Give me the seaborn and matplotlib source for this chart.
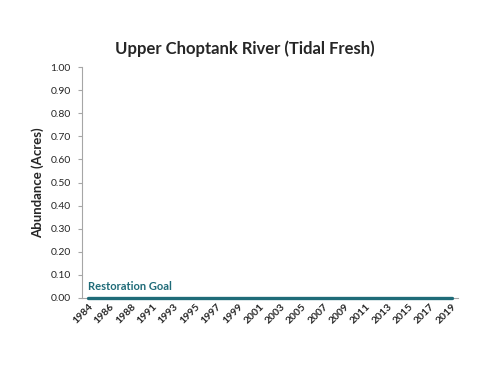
import numpy as np
import pandas as pd
import seaborn as sns
import matplotlib
matplotlib.use("Agg")
import matplotlib.pyplot as plt

# survey years (1990 missing) and abundance, all zero
years = [1984, 1985, 1986, 1987, 1988, 1989] + list(range(1991, 2020))
abundance = [0.0] * len(years)
goal = [0.0] * len(years)
yticks = [0.0, 0.1, 0.2, 0.3, 0.4, 0.5, 0.6, 0.7, 0.8, 0.9, 1.0]

sns.set_style("white")
plt.rcParams["font.family"] = ["Lato", "DejaVu Sans"]

df = pd.DataFrame({"year": [str(y) for y in years], "abundance": abundance, "goal": goal})

fig = plt.figure(figsize=(5, 3.86), dpi=100)
ax = fig.add_axes([0.164, 0.228, 0.752, 0.598])

sns.barplot(data=df, x="year", y="abundance", color="#4f81bd", ax=ax)
sns.lineplot(x=np.arange(len(years)), y=df["goal"], color="#1f6b78", linewidth=2.4, ax=ax)
for ln in ax.lines:
    ln.set_clip_on(False)
    ln.set_zorder(5)

ax.set_xlim(-0.6, len(years) - 0.4)
ax.set_ylim(0, 1.0)
ax.set_yticks(yticks)
ax.set_yticklabels([f"{v:.2f}" for v in yticks], fontsize=7.5)
ax.set_xticks(range(0, len(years), 2))
ax.set_xticklabels([str(y) for y in years[::2]], rotation=45, ha="right",
                   rotation_mode="anchor", fontsize=7.5, fontweight="bold")
ax.set_xlabel("")
ax.set_ylabel("Abundance (Acres)", fontsize=9.5, fontweight="bold")
ax.yaxis.set_label_coords(-0.1, 0.5)
fig.text(0.49, 0.875, "Upper Choptank River (Tidal Fresh)", fontsize=12, fontweight="bold",
         ha="center", va="center")

for side in ["top", "right"]:
    ax.spines[side].set_visible(False)
for side in ["left", "bottom"]:
    ax.spines[side].set_color("#a6a6a6")
    ax.spines[side].set_linewidth(0.8)
ax.tick_params(axis="y", length=3, color="#a6a6a6", direction="out", left=True, pad=5)
ax.tick_params(axis="x", length=0, pad=3)

ax.text(0.0, 0.025, "Restoration Goal", color="#1f6b78", fontsize=8, fontweight="bold",
        transform=ax.transData, ha="left", va="bottom")

fig.savefig("out.png", dpi=100)
